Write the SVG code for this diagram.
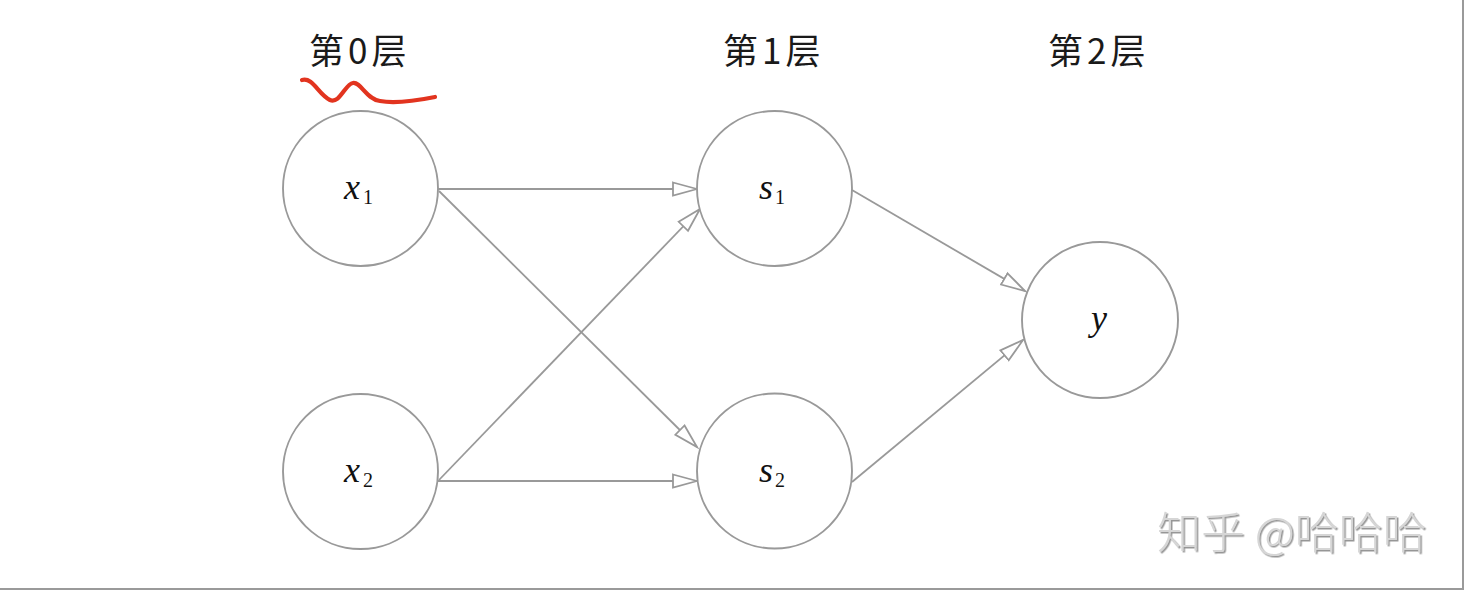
<svg xmlns="http://www.w3.org/2000/svg" width="1466" height="591" viewBox="0 0 1466 591">
<style>
.node circle{fill:#fff;stroke:#999;stroke-width:1.9}
.conn line{stroke:#999;stroke-width:1.8;marker-end:url(#arr)}
.title{font-family:"Noto Sans CJK SC","Noto Sans",sans-serif;font-size:35px;fill:#1a1a1a;letter-spacing:4px}
.wm{font-family:"Noto Sans CJK SC",sans-serif;font-size:44px;fill:#d6d6d6;font-weight:300}
.m{font-family:"Liberation Serif","Times New Roman",serif;font-style:italic;font-size:36px;fill:#111}
.d{font-family:"Liberation Serif","Times New Roman",serif;font-size:20px;fill:#111}
</style>
<defs>
<marker id="arr" markerUnits="userSpaceOnUse" markerWidth="28" markerHeight="18" refX="25" refY="8" orient="auto" viewBox="0 0 28 16">
<path d="M1,1.5 L25,8 L1,14.5 Z" fill="#fff" stroke="#999" stroke-width="1.8" stroke-linejoin="miter"/>
</marker>
<filter id="emb" x="-5%" y="-20%" width="110%" height="140%">
<feDropShadow dx="1.5" dy="1.5" stdDeviation="0.4" flood-color="#8a8a8a" flood-opacity="0.9"/>
</filter>
</defs>
<rect width="1466" height="591" fill="#fff"/>
<line x1="0" y1="589" x2="1464" y2="589" stroke="#9a9a9a" stroke-width="2"/>
<line x1="1463" y1="0" x2="1463" y2="590" stroke="#9a9a9a" stroke-width="2"/>

<g id="titles">
<text class="title" x="309" y="64">第0层</text>
<text class="title" x="723" y="64">第1层</text>
<text class="title" x="1048" y="64">第2层</text>
</g>

<path id="squiggle" d="M302,80 C313,77 318,94 330,100 C340,104 345,84 353,83 C361,82 366,99 380,101 C395,104 415,101 435,97" fill="none" stroke="#e2341f" stroke-width="4.2" stroke-linecap="round" stroke-linejoin="round"/>

<g id="connectors" class="conn">
<line x1="438" y1="189" x2="697" y2="189"/>
<line x1="439" y1="191" x2="697" y2="447"/>
<line x1="439" y1="480" x2="700" y2="209"/>
<line x1="438" y1="481" x2="697" y2="481"/>
<line x1="852" y1="190" x2="1025" y2="291"/>
<line x1="852" y1="482" x2="1023" y2="340"/>
</g>

<g id="x1" class="node">
<circle cx="360.5" cy="188.5" r="77.5"/>
<text class="m" x="344" y="199">x</text>
<text class="d" x="363" y="204">1</text>
</g>
<g id="x2" class="node">
<circle cx="360.5" cy="471.5" r="77.5"/>
<text class="m" x="344" y="482">x</text>
<text class="d" x="363" y="487">2</text>
</g>
<g id="s1" class="node">
<circle cx="774.5" cy="188.5" r="77.5"/>
<text class="m" x="759" y="199">s</text>
<text class="d" x="775" y="204">1</text>
</g>
<g id="s2" class="node">
<circle cx="774.5" cy="471" r="77.5"/>
<text class="m" x="759" y="482">s</text>
<text class="d" x="775" y="487">2</text>
</g>
<g id="y" class="node">
<circle cx="1100" cy="320" r="78"/>
<text class="m" x="1091" y="330">y</text>
</g>

<text class="wm" x="1157" y="549" filter="url(#emb)">知乎 @哈哈哈</text>
</svg>
